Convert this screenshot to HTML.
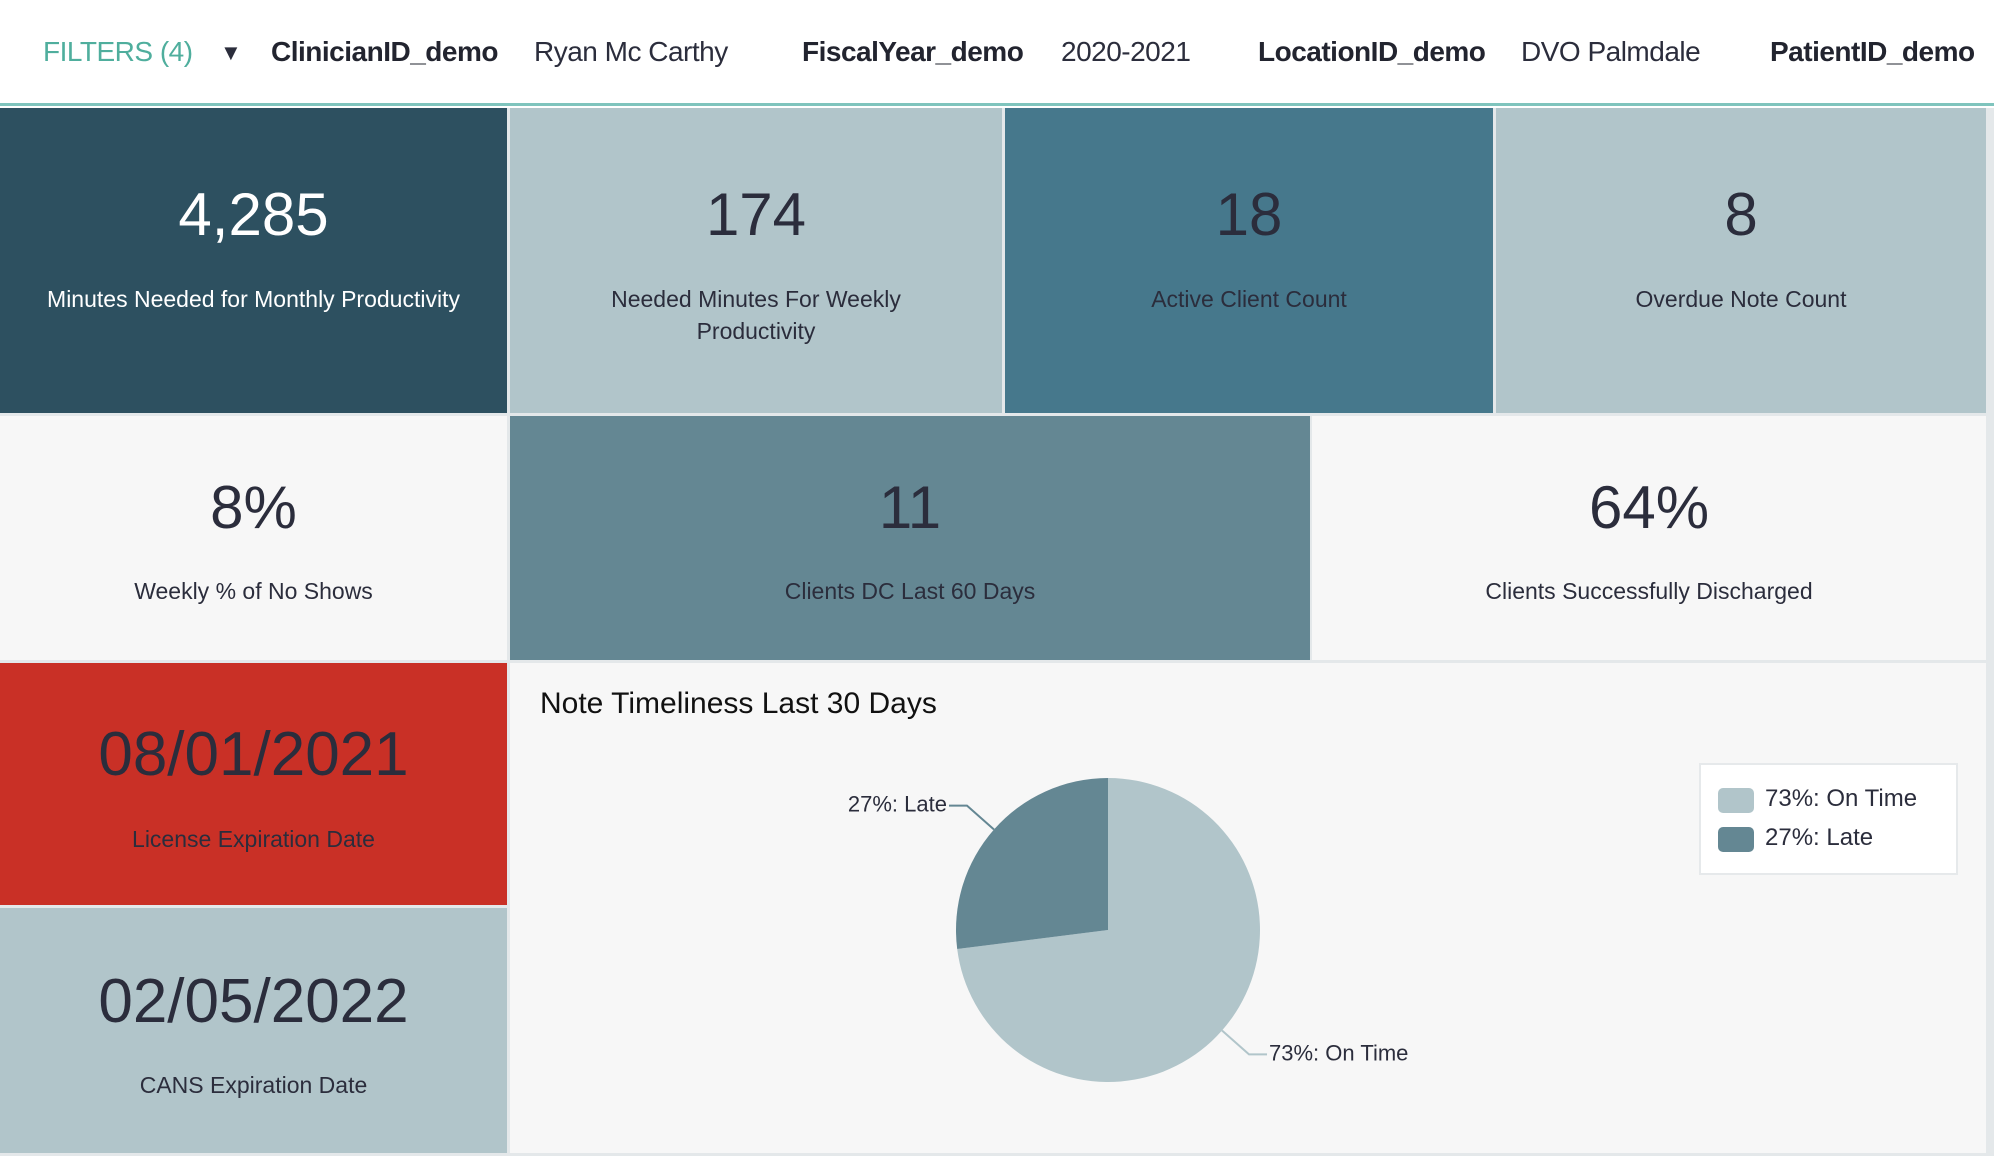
<!DOCTYPE html>
<html><head><meta charset="utf-8"><style>
*{box-sizing:border-box;margin:0;padding:0}
body{width:1994px;height:1156px;background:#fff;font-family:"Liberation Sans",sans-serif;color:#2b2d3c;position:relative;overflow:hidden}
.a{position:absolute}
.hdr{left:0;top:0;width:1994px;height:106px;background:#fff;border-bottom:3px solid #7fc4bd}
.ht{position:absolute;top:36px;font-size:28px;white-space:nowrap;letter-spacing:-0.5px}
.b{font-weight:bold;color:#22242f}
.tile{position:absolute;text-align:center}
.num{position:absolute;left:0;right:0;font-size:60px}
.lbl{position:absolute;left:0;right:0;font-size:23px;line-height:32px}
</style></head><body>
<div class="a hdr">
<span class="ht" style="left:43px;color:#4fae9d">FILTERS (4)</span>
<span class="ht" style="left:220px;font-size:22px;top:40px">▼</span>
<span class="ht b" style="left:271px">ClinicianID_demo</span>
<span class="ht" style="left:534px">Ryan Mc Carthy</span>
<span class="ht b" style="left:802px">FiscalYear_demo</span>
<span class="ht" style="left:1061px">2020-2021</span>
<span class="ht b" style="left:1258px">LocationID_demo</span>
<span class="ht" style="left:1521px">DVO Palmdale</span>
<span class="ht b" style="left:1770px">PatientID_demo</span>
</div>
<div class="a" style="left:0;top:108px;width:1994px;height:1048px;background:#e4e8ea"></div>

<div class="tile" style="left:0;top:108px;width:507px;height:305px;background:#2d5060;color:#fff">
<div class="num" style="top:72px">4,285</div><div class="lbl" style="top:175px">Minutes Needed for Monthly Productivity</div></div>
<div class="tile" style="left:510px;top:108px;width:492px;height:305px;background:#b1c5ca">
<div class="num" style="top:72px">174</div><div class="lbl" style="top:175px">Needed Minutes For Weekly<br>Productivity</div></div>
<div class="tile" style="left:1005px;top:108px;width:488px;height:305px;background:#46788c">
<div class="num" style="top:72px">18</div><div class="lbl" style="top:175px">Active Client Count</div></div>
<div class="tile" style="left:1496px;top:108px;width:490px;height:305px;background:#b1c5ca">
<div class="num" style="top:72px">8</div><div class="lbl" style="top:175px">Overdue Note Count</div></div>

<div class="tile" style="left:0;top:416px;width:507px;height:244px;background:#f7f7f7">
<div class="num" style="top:57px">8%</div><div class="lbl" style="top:159px">Weekly % of No Shows</div></div>
<div class="tile" style="left:510px;top:416px;width:800px;height:244px;background:#648793">
<div class="num" style="top:57px">11</div><div class="lbl" style="top:159px">Clients DC Last 60 Days</div></div>
<div class="tile" style="left:1312px;top:416px;width:674px;height:244px;background:#f7f7f7">
<div class="num" style="top:57px">64%</div><div class="lbl" style="top:159px">Clients Successfully Discharged</div></div>

<div class="tile" style="left:0;top:663px;width:507px;height:242px;background:#c93026">
<div class="num" style="top:56px;font-size:62px">08/01/2021</div><div class="lbl" style="top:160px">License Expiration Date</div></div>
<div class="tile" style="left:0;top:908px;width:507px;height:245px;background:#b1c5ca">
<div class="num" style="top:58px;font-size:62px">02/05/2022</div><div class="lbl" style="top:161px">CANS Expiration Date</div></div>

<div class="a" style="left:510px;top:663px;width:1476px;height:490px;background:#f7f7f7">
<div class="a" style="left:30px;top:24px;font-size:30px;color:#111">Note Timeliness Last 30 Days</div>
<svg id="pie" class="a" style="left:0;top:0" width="1476" height="490"></svg>
<div class="a" style="left:1189px;top:100px;width:259px;height:112px;background:#fff;border:2px solid #e6e9eb">
<div class="a" style="left:17px;top:23px;width:36px;height:25px;border-radius:5px;background:#b1c5ca"></div>
<div class="a" style="left:64px;top:20px;font-size:24px">73%: On Time</div>
<div class="a" style="left:17px;top:62px;width:36px;height:25px;border-radius:5px;background:#648793"></div>
<div class="a" style="left:64px;top:59px;font-size:24px">27%: Late</div>
</div>
</div>
<script>
const categories=["On Time","Late"];
const values=[73,27];
const colors=["#b1c5ca","#648793"];
const svg=document.getElementById('pie');
const NS="http://www.w3.org/2000/svg";
const cx=598,cy=267,r=152;
const total=values.reduce((a,b)=>a+b,0);
function pt(a,rr){return [cx+rr*Math.sin(a),cy-rr*Math.cos(a)];}
let start=0;
values.forEach((v,i)=>{
  const ang=v/total*2*Math.PI,end=start+ang;
  const p1=pt(start,r),p2=pt(end,r);
  const path=document.createElementNS(NS,'path');
  path.setAttribute('d',`M${cx},${cy} L${p1[0]},${p1[1]} A${r},${r} 0 ${ang>Math.PI?1:0} 1 ${p2[0]},${p2[1]} Z`);
  path.setAttribute('fill',colors[i]);
  
  
  svg.appendChild(path);
  const mid=(start+end)/2;
  const e=pt(mid,r),o=pt(mid,r+36);
  const right=Math.sin(mid)>=0;
  const hx=o[0]+(right?18:-18);
  const line=document.createElementNS(NS,'polyline');
  line.setAttribute('points',`${e[0]},${e[1]} ${o[0]},${o[1]} ${hx},${o[1]}`);
  line.setAttribute('fill','none');line.setAttribute('stroke',colors[i]);line.setAttribute('stroke-width','2');
  
  
  svg.appendChild(line);
  const t=document.createElementNS(NS,'text');
  t.setAttribute('x',hx+(right?2:-2));t.setAttribute('y',o[1]+6);
  t.setAttribute('text-anchor',right?'start':'end');
  t.setAttribute('font-size','22');t.setAttribute('fill','#2b2d3c');
  t.setAttribute('font-family','Liberation Sans, sans-serif');
  t.textContent=v+'%: '+categories[i];
  
  
  svg.appendChild(t);
  start=end;
});
</script>
</body></html>
